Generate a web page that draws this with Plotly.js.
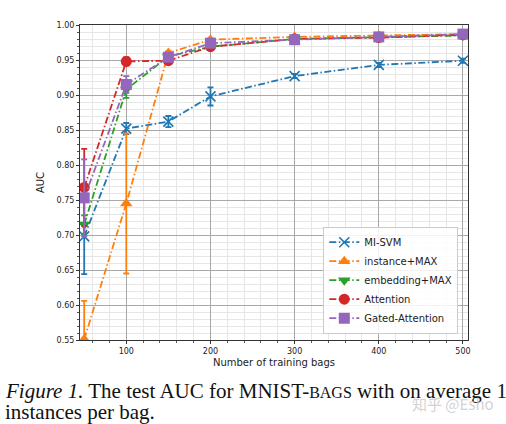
<!DOCTYPE html>
<html><head><meta charset="utf-8">
<script src="https://cdn.plot.ly/plotly-3.0.1.min.js"></script>
<style>html,body{margin:0;padding:0;background:#fff}#plot{width:506px;height:424px}</style>
</head><body><div id="plot"></div>
<script>
const bags = [50, 100, 150, 200, 300, 400, 500];
const seriesNames = ["MI-SVM", "instance+MAX", "embedding+MAX", "Attention", "Gated-Attention"];
const miSvm      = [0.698, 0.852, 0.862, 0.898, 0.927, 0.943, 0.949];
const miSvmErr   = [0.054, 0.008, 0.008, 0.013, 0.003, 0.003, 0.003];
const instMax    = [0.551, 0.745, 0.960, 0.979, 0.983, 0.985, 0.987];
const instMaxErr = [0.055, 0.100, 0.003, 0.002, 0.002, 0.002, 0.002];
const embMax     = [0.715, 0.908, 0.955, 0.969, 0.980, 0.982, 0.985];
const embMaxErr  = [0.013, 0.012, 0.003, 0.003, 0.002, 0.002, 0.002];
const attn       = [0.768, 0.948, 0.949, 0.969, 0.980, 0.982, 0.986];
const attnErr    = [0.055, 0.006, 0.003, 0.003, 0.002, 0.002, 0.002];
const gated      = [0.753, 0.915, 0.954, 0.974, 0.979, 0.983, 0.987];
const gatedErr   = [0.055, 0.012, 0.003, 0.003, 0.002, 0.002, 0.002];
const yTicks = [0.55, 0.60, 0.65, 0.70, 0.75, 0.80, 0.85, 0.90, 0.95, 1.00];

const colors = ["#1f77b4", "#ff7f0e", "#2ca02c", "#d62728", "#9467bd"];
const symbols = ["x-thin-open", "triangle-up", "triangle-down", "circle", "square"];
const ys = [miSvm, instMax, embMax, attn, gated];
const errs = [miSvmErr, instMaxErr, embMaxErr, attnErr, gatedErr];
const sizes = [10, 11, 11, 11, 11];

const traces = ys.map((y, i) => ({
  type: "scatter", mode: "lines+markers", name: seriesNames[i],
  x: bags, y: y,
  error_y: {type: "data", array: errs[i], visible: true, color: colors[i], thickness: 1.8, width: 3},
  line: {color: colors[i], width: 1.8, dash: "7px,2.5px,1.5px,2.5px"},
  marker: {color: colors[i], symbol: symbols[i], size: sizes[i], line: {color: colors[i], width: i === 0 ? 1.6 : 0}}
}));

const W = 388, H = 315;
const layout = {
  width: 506, height: 424,
  margin: {l: 80, r: 38, t: 25, b: 84},
  paper_bgcolor: "#fff", plot_bgcolor: "#fff",
  font: {family: "DejaVu Sans", size: 8, color: "#222"},
  showlegend: true,
  legend: {x: 0.975, xanchor: "right", y: 0.02, yanchor: "bottom",
    bgcolor: "rgba(255,255,255,0.85)", bordercolor: "#cccccc", borderwidth: 1,
    font: {family: "DejaVu Sans", size: 10, color: "#222"}, tracegroupgap: 0, itemwidth: 30},
  xaxis: {range: [45, 506], tick0: 0, dtick: 100, showline: true, mirror: true, linecolor: "#333", linewidth: 1,
    ticks: "outside", ticklen: 3, tickcolor: "#333", showgrid: true, gridcolor: "#a8a8a8", gridwidth: 1,
    zeroline: false,
    minor: {dtick: 20, tick0: 0, showgrid: true, gridcolor: "#e6e6e6", gridwidth: 1, ticks: "outside", ticklen: 2, tickcolor: "#555"},
    title: {text: "Number of training bags", font: {size: 10, color: "#222"}, standoff: 4}},
  yaxis: {range: [0.55, 1.0], tickvals: yTicks, tickformat: ".2f", showline: true, mirror: true, linecolor: "#333", linewidth: 1,
    ticks: "outside", ticklen: 3, tickcolor: "#333", showgrid: true, gridcolor: "#a8a8a8", gridwidth: 1,
    zeroline: false,
    minor: {dtick: 0.01, tick0: 0.55, showgrid: true, gridcolor: "#e6e6e6", gridwidth: 1, ticks: "outside", ticklen: 2, tickcolor: "#555"},
    title: {text: "AUC", font: {size: 10, color: "#222"}, standoff: 10}},
  annotations: [
    {xref: "paper", yref: "paper", x: -77/W, y: -51/H, xanchor: "left", yanchor: "middle", showarrow: false, align: "left",
     text: "<i>Figure 1.</i> The test AUC for MNIST-<span style=\"font-size:16px\">BAGS</span> with on average 1",
     font: {family: "Liberation Serif", size: 21, color: "#111"}},
    {xref: "paper", yref: "paper", x: -77/W, y: -72/H, xanchor: "left", yanchor: "middle", showarrow: false, align: "left",
     text: "instances per bag.", font: {family: "Liberation Serif", size: 21, color: "#111"}},
    {xref: "paper", yref: "paper", x: (410 - 80)/W, y: -63/H, xanchor: "left", yanchor: "middle", showarrow: false,
     text: "知乎 @Esho", font: {family: "Noto Sans CJK SC", size: 15, color: "rgba(190,190,190,0.7)"}}
  ]
};
Plotly.newPlot("plot", traces, layout, {displayModeBar: false, staticPlot: true});
</script></body></html>
